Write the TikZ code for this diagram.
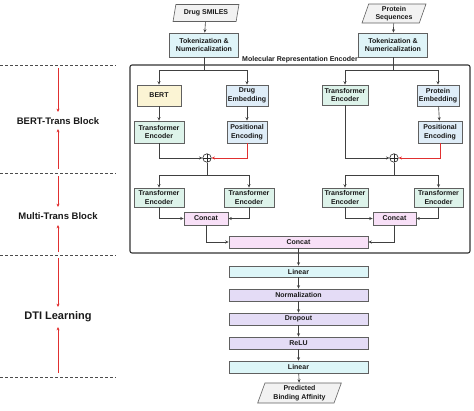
\documentclass[tikz,border=0pt]{standalone}
\usepackage{fontspec}
\setmainfont{Liberation Sans}
\usetikzlibrary{arrows.meta,shapes.geometric}
\definecolor{cTok}{HTML}{DFF4F8}
\definecolor{cBert}{HTML}{FBF4D4}
\definecolor{cEmb}{HTML}{DFEDF8}
\definecolor{cTE}{HTML}{DDF3EA}
\definecolor{cCat}{HTML}{F8E0F7}
\definecolor{cLin}{HTML}{DDF6F8}
\definecolor{cMid}{HTML}{E4DCF6}
\definecolor{cIO}{HTML}{F2F2F2}
\definecolor{cEdge}{HTML}{606060}
\definecolor{cLine}{HTML}{404040}
\definecolor{cRed}{HTML}{E03030}
\tikzset{
  box/.style={draw=cEdge, line width=0.75pt, align=center, inner sep=0pt,
    font=\bfseries\fontsize{7}{8.5}\selectfont, text=black!90},
  iobox/.style={trapezium, trapezium left angle=72, trapezium right angle=108,
    trapezium stretches=true, draw=cEdge, line width=0.6pt, fill=cIO, align=center,
    inner sep=0pt, font=\bfseries\fontsize{7}{8.5}\selectfont, text=black!90},
  arr/.style={draw=cLine, line width=0.65pt, -{Stealth[length=3.4pt,width=3pt]}},
  ln/.style={draw=cLine, line width=0.65pt},
  redarr/.style={draw=cRed, line width=0.65pt, -{Stealth[length=3.4pt,width=3pt]}},
  plus/.style={circle, draw=black!85, line width=0.6pt, minimum size=8.5pt, inner sep=0pt,
    path picture={\draw[line width=0.5pt] (path picture bounding box.north) -- (path picture bounding box.south)
      (path picture bounding box.west) -- (path picture bounding box.east);}},
  side/.style={font=\bfseries\fontsize{9.5}{11}\selectfont, text=black!90},
  dsh/.style={dashed, dash pattern=on 3pt off 2pt, draw=black!70, line width=0.8pt}
}
\begin{document}
\begin{tikzpicture}[x=1pt,y=-1pt]
\useasboundingbox (0,0) rectangle (474,410);
% encoder frame
\draw[draw=black!80, line width=1.1pt, rounded corners=2pt] (130,65) rectangle (470,253);
\node[font=\bfseries\fontsize{7}{8}\selectfont, text=black!90] (enc) at (300,60) {Molecular Representation Encoder};
% inputs
\node[iobox, minimum width=66, minimum height=17] (smi) at (206,13) {Drug SMILES};
\node[iobox, minimum width=64, minimum height=19] (prot) at (394,13.5) {Protein\\Sequences};
\node[box, fill=cTok, minimum width=69, minimum height=24] (tok1) at (204,45) {Tokenization \&\\Numericalization};
\node[box, fill=cTok, minimum width=69, minimum height=24] (tok2) at (393,45) {Tokenization \&\\Numericalization};
% left branch
\node[box, fill=cBert, minimum width=44, minimum height=21] (bert) at (159,95.5) {BERT};
\node[box, fill=cEmb, minimum width=42, minimum height=21] (demb) at (247,95.5) {Drug\\Embedding};
\node[box, fill=cTE, minimum width=50, minimum height=22] (te1) at (159,132) {Transformer\\Encoder};
\node[box, fill=cEmb, minimum width=40, minimum height=22] (pe1) at (247,132) {Positional\\Encoding};
\node[plus] (p1) at (207,158) {};
\node[box, fill=cTE, minimum width=50, minimum height=19] (te2a) at (159,197.5) {Transformer\\Encoder};
\node[box, fill=cTE, minimum width=50, minimum height=19] (te2b) at (249,197.5) {Transformer\\Encoder};
\node[box, fill=cCat, minimum width=44, minimum height=13] (cat1) at (206,218.5) {Concat};
% right branch
\node[box, fill=cTE, minimum width=46, minimum height=20] (te3) at (345,95) {Transformer\\Encoder};
\node[box, fill=cEmb, minimum width=42, minimum height=21] (pemb) at (438,95.5) {Protein\\Embedding};
\node[box, fill=cEmb, minimum width=44, minimum height=22] (pe2) at (440,132) {Positional\\Encoding};
\node[plus] (p2) at (394,158) {};
\node[box, fill=cTE, minimum width=46, minimum height=19] (te4a) at (345,197.5) {Transformer\\Encoder};
\node[box, fill=cTE, minimum width=49, minimum height=19] (te4b) at (438.5,197.5) {Transformer\\Encoder};
\node[box, fill=cCat, minimum width=43, minimum height=13] (cat2) at (394.5,218.5) {Concat};
% merge and head
\node[box, fill=cCat, minimum width=139, minimum height=12] (cat) at (298.5,242) {Concat};
\node[box, fill=cLin, minimum width=139, minimum height=11] (lin1) at (298.5,271.5) {Linear};
\node[box, fill=cMid, minimum width=139, minimum height=12] (norm) at (298.5,295) {Normalization};
\node[box, fill=cMid, minimum width=139, minimum height=12] (drop) at (298.5,319) {Dropout};
\node[box, fill=cMid, minimum width=139, minimum height=12] (relu) at (298.5,343) {ReLU};
\node[box, fill=cLin, minimum width=139, minimum height=12] (lin2) at (298.5,367) {Linear};
\node[iobox, trapezium left angle=70, trapezium right angle=110, minimum width=84, minimum height=20] (out) at (299.5,393) {Predicted\\Binding Affinity};
% split coordinates
\coordinate (s1) at (204,70);
\coordinate (s2) at (393,70);
\coordinate (m1) at (207,175);
\coordinate (m2) at (394,175);
% connectors left
\draw[arr] (smi) -- (tok1);
\draw[ln] (tok1) -- (s1);
\draw[arr] (s1) -| (bert);
\draw[arr] (s1) -| (demb);
\draw[arr] (bert) -- (te1);
\draw[arr] (demb) -- (pe1);
\draw[arr] (te1) |- (p1);
\draw[redarr] (pe1) |- (p1);
\draw[ln] (p1) -- (m1);
\draw[arr] (m1) -| (te2a);
\draw[arr] (m1) -| (te2b);
\draw[arr] (te2a) |- (cat1);
\draw[arr] (te2b) |- (cat1);
\draw[arr] (cat1) |- (cat);
% connectors right
\draw[arr] (prot) -- (tok2);
\draw[ln] (tok2) -- (s2);
\draw[arr] (s2) -| (te3);
\draw[arr] (s2) -| (pemb);
\draw[arr] (pemb) -- (pe2);
\draw[arr] (te3) |- (p2);
\draw[redarr] (pe2) |- (p2);
\draw[ln] (p2) -- (m2);
\draw[arr] (m2) -| (te4a);
\draw[arr] (m2) -| (te4b);
\draw[arr] (te4a) |- (cat2);
\draw[arr] (te4b) |- (cat2);
\draw[arr] (cat2) |- (cat);
% head chain
\draw[arr] (cat) -- (lin1);
\draw[arr] (lin1) -- (norm);
\draw[arr] (norm) -- (drop);
\draw[arr] (drop) -- (relu);
\draw[arr] (relu) -- (lin2);
\draw[arr] (lin2) -- (out);
% left legend
\draw[dsh] (0,65) -- (116,65);
\draw[dsh] (0,173) -- (116,173);
\draw[dsh] (0,255) -- (116,255);
\draw[dsh] (0,377) -- (116,377);
\node[side] (bt) at (58,121) {BERT-Trans Block};
\node[side] (mt) at (58,216) {Multi-Trans Block};
\node[side, font=\bfseries\fontsize{11}{13}\selectfont] (dl) at (58,317) {DTI Learning};
\coordinate (a1) at (58,68);   \coordinate (b1) at (58,112);
\coordinate (a2) at (58,169);  \coordinate (b2) at (58,129);
\coordinate (a3) at (58,176);  \coordinate (b3) at (58,207);
\coordinate (a4) at (58,252);  \coordinate (b4) at (58,225);
\coordinate (a5) at (58,258);  \coordinate (b5) at (58,307);
\coordinate (a6) at (58,373);  \coordinate (b6) at (58,327);
\draw[redarr] (a1) -- (b1);
\draw[redarr] (a2) -- (b2);
\draw[redarr] (a3) -- (b3);
\draw[redarr] (a4) -- (b4);
\draw[redarr] (a5) -- (b5);
\draw[redarr] (a6) -- (b6);
\end{tikzpicture}
\end{document}
